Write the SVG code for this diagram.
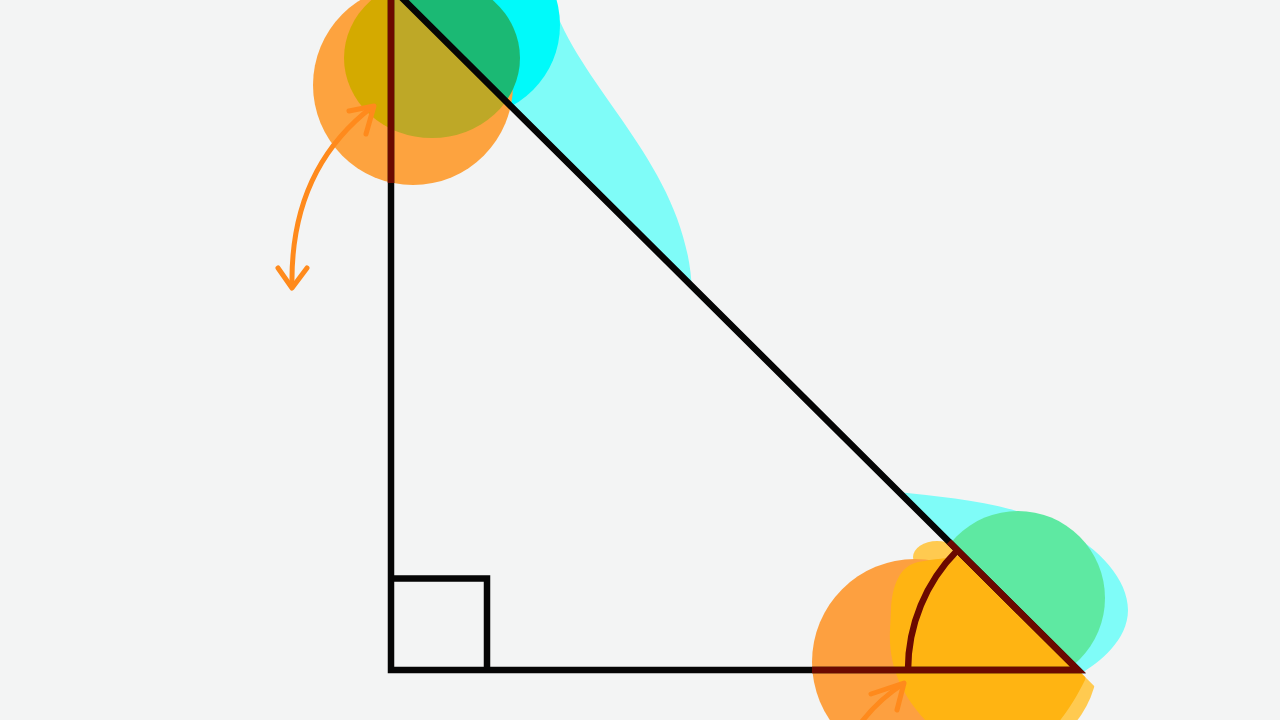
<svg xmlns="http://www.w3.org/2000/svg" width="1280" height="720" viewBox="0 0 1280 720">
  <defs>
    <clipPath id="above"><polygon points="300,-103.5 1300,890.7 1300,-200 300,-200"/></clipPath>
    <clipPath id="below"><polygon points="300,-103.5 1300,890.7 0,890.7 0,-103.5"/></clipPath>
    <clipPath id="belowRight"><polygon points="391,-13 1300,890.7 391,890.7"/></clipPath>
    <clipPath id="leftOfLeg"><rect x="0" y="-50" width="391" height="400"/></clipPath>
    <style>
      .leg { fill: none; stroke: #050505; stroke-width: 6.5; stroke-linejoin: miter; }
      .tint { fill: none; stroke: #6b0900; stroke-width: 6.5; stroke-linejoin: miter; }
      .arrow { fill: none; stroke: #ff8a1c; stroke-width: 5; stroke-linecap: round; stroke-linejoin: round; }
    </style>
  </defs>
  <rect width="1280" height="720" fill="#f3f4f4"/>

  <g id="top-blobs">
    <g clip-path="url(#above)">
      <path d="M 550,-5 C 578,90 688,165 692,292 L 600,400 L 300,-5 Z" fill="#7ffcf8"/>
      <circle cx="468" cy="25" r="92" fill="#00fafa"/>
    </g>
    <circle cx="413" cy="85" r="100" fill="#fda33f"/>
    <ellipse cx="432" cy="58" rx="88" ry="80" fill="#d4aa00" clip-path="url(#leftOfLeg)"/>
    <ellipse cx="432" cy="58" rx="88" ry="80" fill="#bea827" clip-path="url(#belowRight)"/>
    <ellipse cx="432" cy="58" rx="88" ry="80" fill="#1bb974" clip-path="url(#above)"/>
  </g>

  <g id="bottom-blobs">
    <g clip-path="url(#above)">
      <path d="M 898,492 C 950,498 1010,502 1060,528 C 1100,548 1128,580 1128,610 C 1128,640 1100,662 1080,674 L 898,674 Z" fill="#7ffcf8"/>
      <circle cx="1018" cy="598" r="87" fill="#5ee9a2"/>
    </g>
    <g clip-path="url(#below)">
      <circle cx="1000" cy="660" r="98" fill="#ffca50"/>
      <ellipse cx="937" cy="557" rx="24" ry="16" fill="#ffca50"/>
      <circle cx="915" cy="662" r="103" fill="#fda040"/>
      <path d="M 891,610 C 892,585 900,566 918,562 C 935,559 948,558 960,556 L 1000,500 L 1100,600 L 1085,680 C 1075,700 1066,714 1056,725 L 930,725 C 905,700 888,670 890,630 Z" fill="#ffb412"/>
    </g>
  </g>

  <g id="triangle">
    <path class="leg" d="M 391,-13 L 391,670 L 1078,670 Z"/>
    <path class="leg" d="M 391,578.5 L 487,578.5 L 487,670"/>
  </g>

  <g id="tinted-lines">
    <path class="tint" d="M 391,-13 L 391,183"/>
    <path class="tint" d="M 812,670 L 1078,670 L 949,541.7"/>
    <path class="tint" d="M 908,670 A 170 170 0 0 1 957.4,550.2"/>
  </g>

  <g id="connectors">
    <path class="arrow" d="M 292,286 Q 290,170 372,107"/>
    <path class="arrow" d="M 278,268 L 292,288 L 307,268"/>
    <path class="arrow" d="M 349,111 L 374,106 L 366,134"/>
    <path class="arrow" d="M 860,724 Q 878,700 903,684"/>
    <path class="arrow" d="M 871,694 L 904,683 L 897,710"/>
  </g>
</svg>
